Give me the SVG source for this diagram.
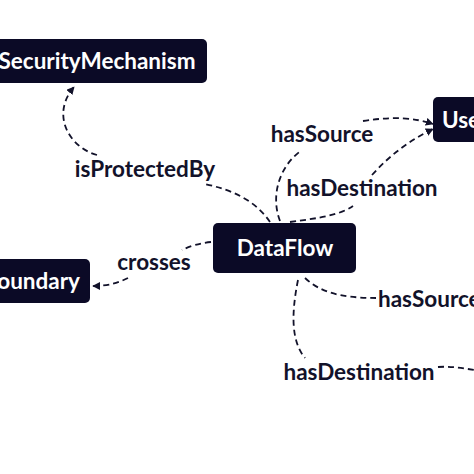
<svg xmlns="http://www.w3.org/2000/svg" width="474" height="474" viewBox="0 0 474 474">
<style>
.node rect{fill:#0b0a26;}
.node text{fill:#ffffff;font-family:Lato,"Liberation Sans",sans-serif;font-weight:700;font-size:22.5px;}
.lbl{fill:#12122a;font-family:Lato,"Liberation Sans",sans-serif;font-weight:700;font-size:22.5px;}
.edge{fill:none;stroke:#12122a;stroke-width:1.8;stroke-dasharray:6 4;}
</style>
<defs>
<marker id="arr" viewBox="0 0 10 10" refX="9" refY="5" markerWidth="8" markerHeight="8" markerUnits="userSpaceOnUse" orient="auto">
<path d="M0,0 L10,5 L0,10 z" fill="#12122a"/>
</marker>
</defs>
<rect width="474" height="474" fill="#ffffff"/>
<g id="connectors">
<path class="edge" d="M270,222 C255,200 232,190 205,184"/>
<path class="edge" d="M97,155 C70,148 50,115 74,87" marker-end="url(#arr)"/>
<path class="edge" d="M280,221 C270,195 280,165 302,150"/>
<path class="edge" d="M363,121 C395,116 415,118 433,124" marker-end="url(#arr)"/>
<path class="edge" d="M290,222 C320,218 340,215 353,206"/>
<path class="edge" d="M372,175 C390,155 410,140 433,129" marker-end="url(#arr)"/>
<path class="edge" d="M211,242 C200,243 190,246 182,250"/>
<path class="edge" d="M128,278 C118,283 108,286 93,286" marker-end="url(#arr)"/>
<path class="edge" d="M305,278 C320,292 340,298 376,298"/>
<path class="edge" d="M298,280 C292,310 290,340 305,358"/>
<path class="edge" d="M438,367 C450,366 462,368 474,370"/>
</g>
<g id="labels">
<text class="lbl" x="145" y="177" text-anchor="middle">isProtectedBy</text>
<text class="lbl" x="322" y="142" text-anchor="middle">hasSource</text>
<text class="lbl" x="362" y="196" text-anchor="middle">hasDestination</text>
<text class="lbl" x="154" y="270" text-anchor="middle">crosses</text>
<text class="lbl" x="378" y="307">hasSource</text>
<text class="lbl" x="359" y="380" text-anchor="middle">hasDestination</text>
</g>
<g id="node-securitymechanism" class="node">
<rect x="-12" y="39" width="219" height="44" rx="5"/>
<text x="97" y="69" text-anchor="middle">SecurityMechanism</text>
</g>
<g id="node-user" class="node">
<rect x="433" y="97" width="70" height="45" rx="5"/>
<text x="442" y="128">User</text>
</g>
<g id="node-dataflow" class="node">
<rect x="213" y="223" width="143" height="50" rx="5"/>
<text x="285" y="256" text-anchor="middle">DataFlow</text>
</g>
<g id="node-boundary" class="node">
<rect x="-20" y="259" width="110" height="44" rx="5"/>
<text x="80" y="289" text-anchor="end">Boundary</text>
</g>
</svg>
